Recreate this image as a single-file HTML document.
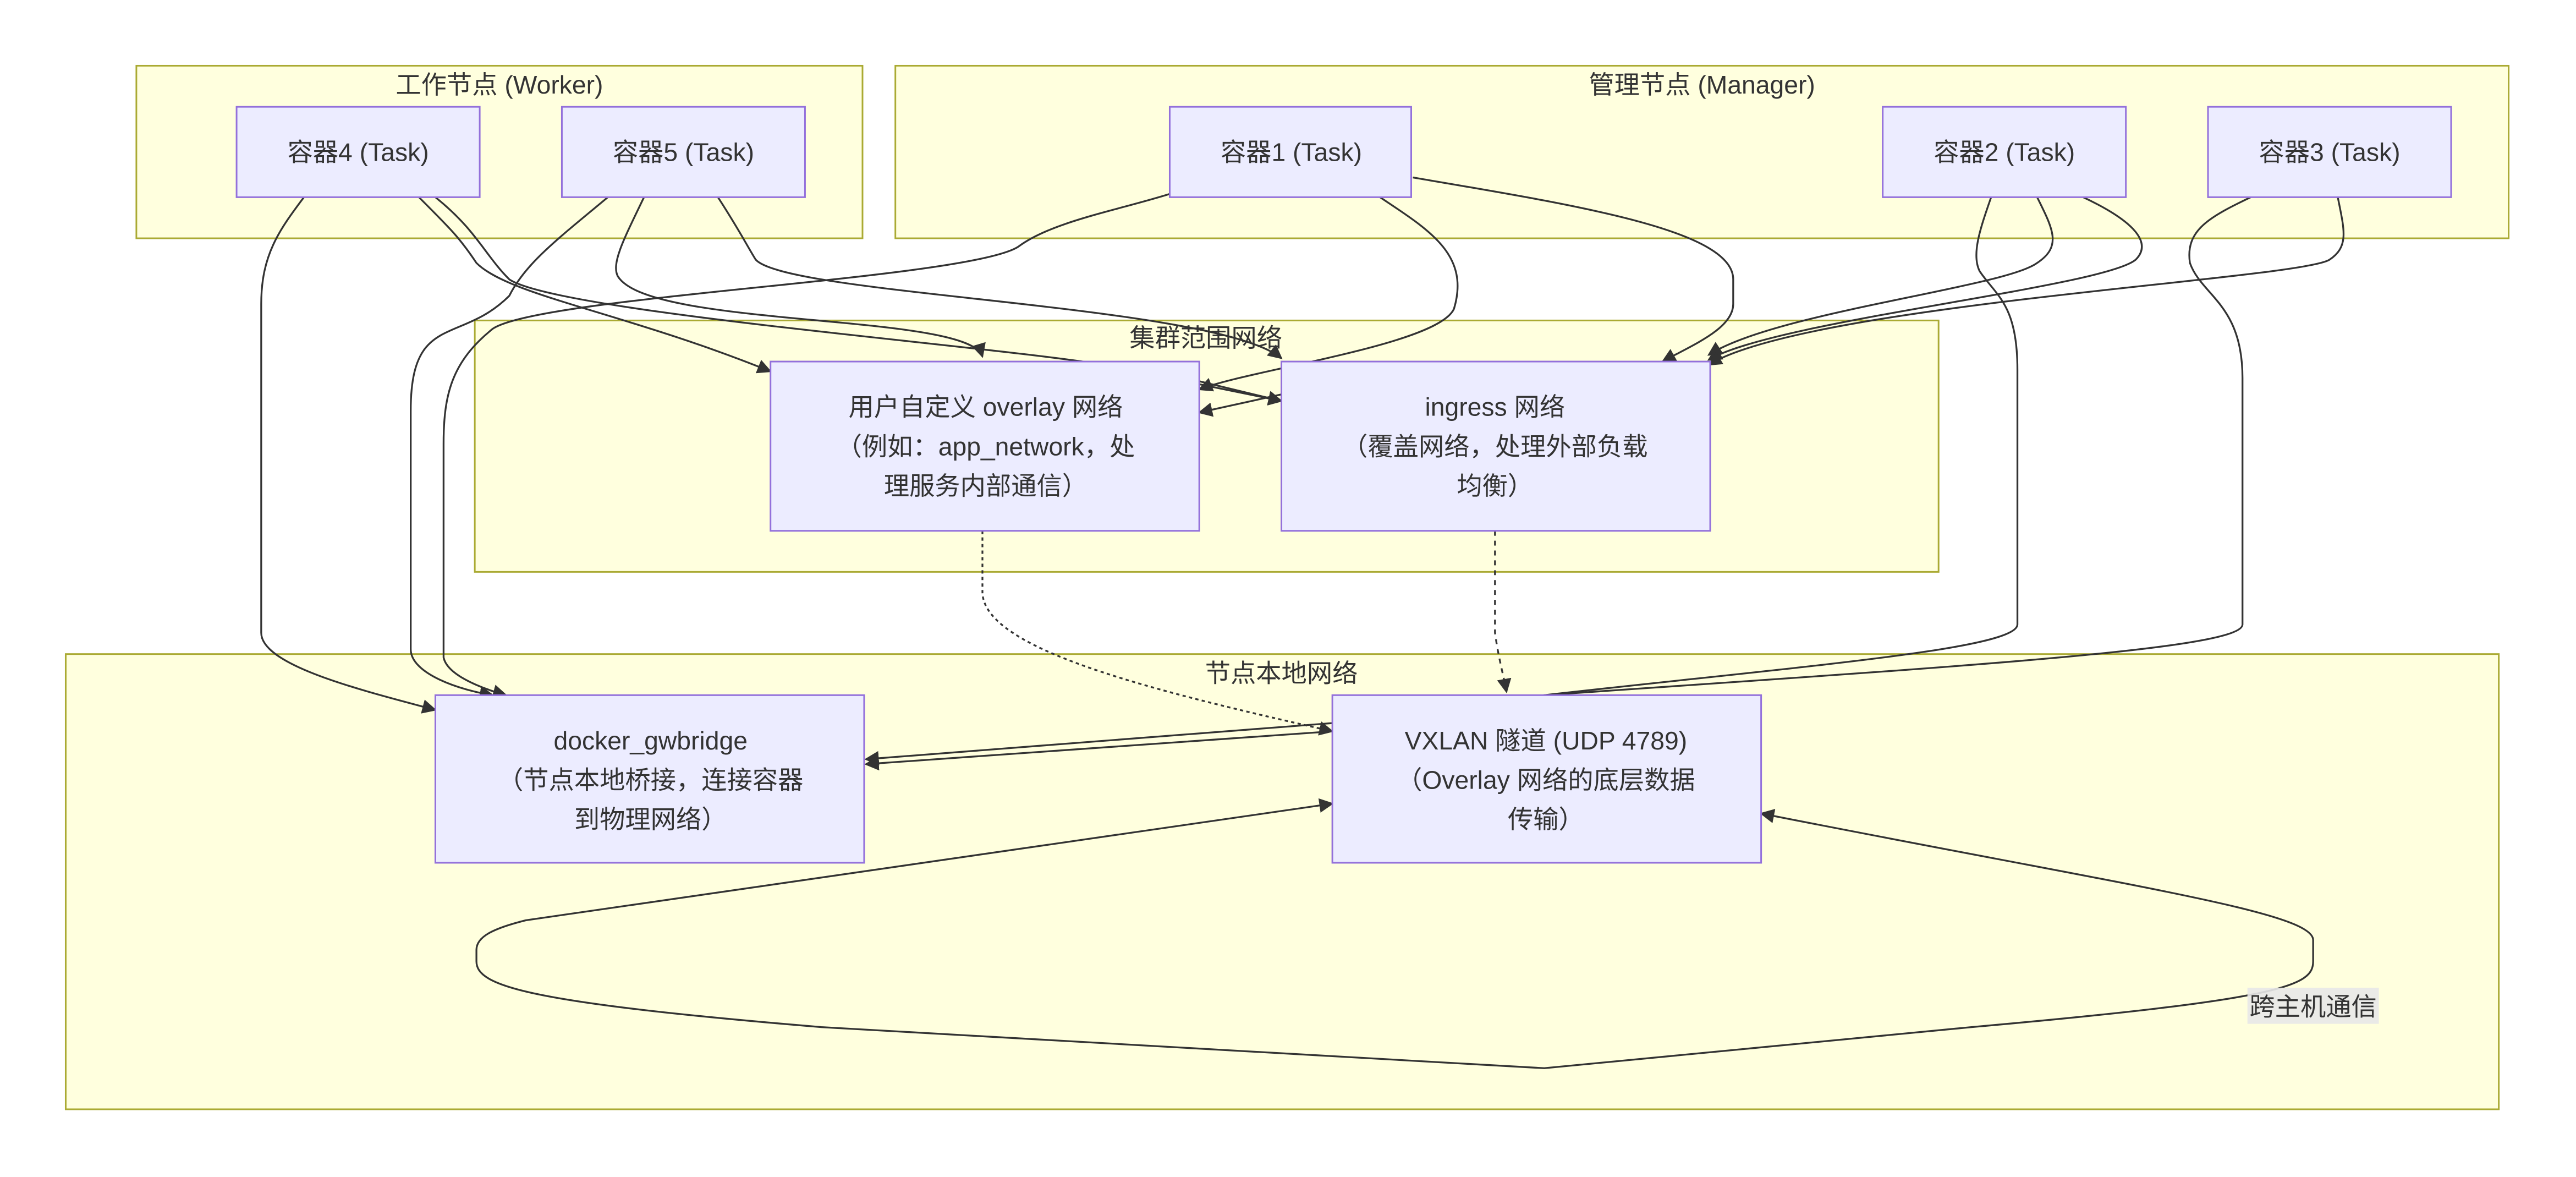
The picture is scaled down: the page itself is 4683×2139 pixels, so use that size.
<!DOCTYPE html>
<html><head><meta charset="utf-8"><style>
html,body{margin:0;padding:0;background:#fff;}
svg{display:block;}
text{font-family:"Liberation Sans","Noto Sans CJK SC",sans-serif;fill:#333;font-size:15.5px;text-anchor:middle;}
.cl{fill:#ffffde;stroke:#aaaa33;stroke-width:1;}
.nd{fill:#ececff;stroke:#9370db;stroke-width:1;}
.e{fill:none;stroke:#333;stroke-width:1.1;}
</style></head><body>
<svg width="4683" height="2139" viewBox="0 0 1568 716.2" xmlns="http://www.w3.org/2000/svg">
<defs>
<marker id="a" viewBox="0 0 10 10" refX="9" refY="5" markerWidth="8" markerHeight="8" orient="auto-start-reverse"><path d="M0,0L10,5L0,10z" fill="#333"/></marker>
</defs>
<rect class="cl" x="83" y="40" width="442" height="105"/>
<text x="304" y="57">工作节点 (Worker)</text>
<rect class="cl" x="545" y="40" width="982" height="105"/>
<text x="1036" y="57">管理节点 (Manager)</text>
<rect class="cl" x="289" y="195" width="891" height="153"/>
<rect class="cl" x="40" y="398" width="1481" height="277"/>

<!-- edges -->
<path class="e" marker-end="url(#a)" d="M185,120 C170,140 159,155 159,185 L159,385 C159,405 220,420 265,432"/>
<path class="e" marker-end="url(#a)" d="M255,120 C275,140 280,145 290,160 C310,180 380,190 469,226"/>
<path class="e" marker-end="url(#a)" d="M265,120 C290,140 295,155 310,170 C340,190 600,210 672,222 L780,244"/>
<path class="e" marker-end="url(#a)" d="M370,120 C340,145 320,160 310,180 C280,210 250,190 250,250 L250,395 C250,410 280,420 300,423"/>
<path class="e" marker-end="url(#a)" d="M392,120 C380,145 372,160 376,168 C395,200 590,190 598,217"/>
<path class="e" marker-end="url(#a)" d="M437,120 C450,140 455,150 460,158 C480,180 740,185 780,218"/>
<path class="e" marker-end="url(#a)" d="M712,118 C680,128 640,135 620,150 C590,170 330,180 300,200 C275,220 270,240 270,270 L270,400 C272,410 290,418 308,423"/>
<path class="e" marker-end="url(#a)" d="M840,120 C870,140 895,155 885,188 C875,210 760,225 730,237"/>
<path class="e" marker-end="url(#a)" d="M860,108 C960,125 1055,140 1055,170 L1055,185 C1055,200 1030,210 1012,220"/>
<path class="e" marker-end="url(#a)" d="M730,232 L780,244"/>
<path class="e" marker-end="url(#a)" d="M780,240 L730,251"/>
<path class="e" marker-end="url(#a)" d="M1212,120 C1205,140 1200,155 1205,165 C1215,180 1228,185 1228,225 L1228,380 C1228,395 1100,405 940,423 L811,440 L527,462"/>
<path class="e" marker-end="url(#a)" d="M1370,120 C1345,132 1330,140 1333,160 C1340,180 1365,185 1365,230 L1365,380 C1365,395 1200,405 940,423 L811,445 L527,465"/>
<path class="e" marker-end="url(#a)" d="M1240,120 C1250,140 1255,150 1240,160 C1220,175 1080,190 1040,216"/>
<path class="e" marker-end="url(#a)" d="M1268,120 C1300,135 1310,148 1300,158 C1280,175 1080,195 1040,219"/>
<path class="e" marker-end="url(#a)" d="M1423,120 C1427,140 1430,150 1418,158 C1400,170 1100,185 1040,222"/>
<path class="e" marker-end="url(#a)" stroke-dasharray="2,2" d="M598,323 L598,360 C598,395 700,420 811,445"/>
<path class="e" marker-end="url(#a)" stroke-dasharray="3,3" d="M910,323 L910,385 C912,400 915,410 917,421"/>
<path class="e" marker-start="url(#a)" marker-end="url(#a)" d="M811,489 L320,560 C300,565 290,570 290,578 L290,585 C290,600 320,610 500,625 L940,650 L1200,625 C1390,608 1408,600 1408,585 L1408,572 C1408,555 1300,540 1072,495"/>

<!-- nodes -->
<rect class="nd" x="144" y="65" width="148" height="55"/><text x="218" y="98">容器4 (Task)</text>
<rect class="nd" x="342" y="65" width="148" height="55"/><text x="416" y="98">容器5 (Task)</text>
<rect class="nd" x="712" y="65" width="147" height="55"/><text x="786" y="98">容器1 (Task)</text>
<rect class="nd" x="1146" y="65" width="148" height="55"/><text x="1220" y="98">容器2 (Task)</text>
<rect class="nd" x="1344" y="65" width="148" height="55"/><text x="1418" y="98">容器3 (Task)</text>
<text x="734" y="211">集群范围网络</text>
<rect class="nd" x="469" y="220" width="261" height="103"/>
<text x="600" y="253">用户自定义 overlay 网络</text>
<text x="600" y="277">（例如：app_network，处</text>
<text x="600" y="301">理服务内部通信）</text>
<rect class="nd" x="780" y="220" width="261" height="103"/>
<text x="910" y="253">ingress 网络</text>
<text x="910" y="277">（覆盖网络，处理外部负载</text>
<text x="910" y="301">均衡）</text>
<text x="780" y="415">节点本地网络</text>
<rect class="nd" x="265" y="423" width="261" height="102"/>
<text x="396" y="456">docker_gwbridge</text>
<text x="396" y="480">（节点本地桥接，连接容器</text>
<text x="396" y="504">到物理网络）</text>
<rect class="nd" x="811" y="423" width="261" height="102"/>
<text x="941" y="456">VXLAN 隧道 (UDP 4789)</text>
<text x="941" y="480">（Overlay 网络的底层数据</text>
<text x="941" y="504">传输）</text>
<rect x="1368" y="601" width="80" height="22" fill="#e8e8e8" opacity="0.9"/>
<text x="1408" y="618">跨主机通信</text>
</svg>
</body></html>
